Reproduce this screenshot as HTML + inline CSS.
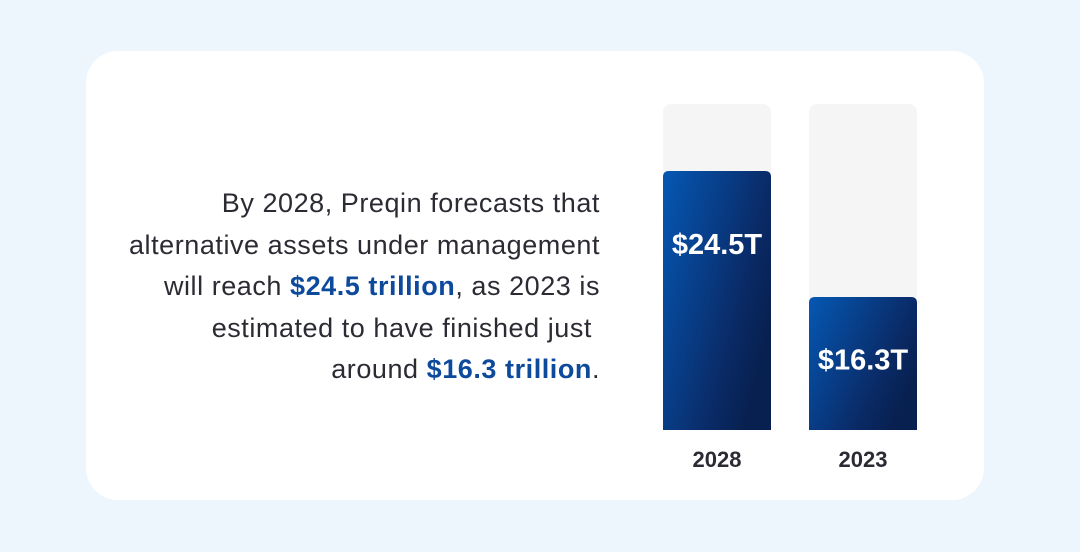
<!DOCTYPE html>
<html><head><meta charset="utf-8"><style>
html,body{margin:0;padding:0;width:1080px;height:552px;background:#eef6fd;overflow:hidden;font-family:"Liberation Sans",sans-serif}
#card{position:absolute;left:86px;top:51px;width:898px;height:449px;background:#fff;border-radius:32px}
#copy{position:absolute;right:480px;top:183px;width:560px;text-align:right;font-size:27px;letter-spacing:0.55px;line-height:41.6px;color:#2b2b33}
#copy b{color:#0d4a9c}
svg{position:absolute;left:0;top:0}
</style></head><body>
<div id="card"></div>
<div id="copy">By 2028, Preqin forecasts that<br>alternative assets under management<br>will reach <b>$24.5 trillion</b>, as 2023 is<br>estimated to have finished just&nbsp;<br>around <b>$16.3 trillion</b>.</div>
<svg id="chart" width="1080" height="552">
<defs><linearGradient id="g" x1="0" y1="0" x2="1" y2="0.6">
<stop offset="0" stop-color="#0558b4"/><stop offset="0.75" stop-color="#0a2a66"/><stop offset="1" stop-color="#07204f"/></linearGradient></defs>
</svg>
<script>
const categories=["2028","2023"];
const values=[24.5,16.3];
const valueLabels=["$24.5T","$16.3T"];
const domainMin=7.65, domainMax=28.86;
const svg=document.getElementById('chart'), NS='http://www.w3.org/2000/svg';
const y=v=>430-(v-domainMin)/(domainMax-domainMin)*326;
const x=i=>663+i*146;
function mk(t,a){const e=document.createElementNS(NS,t);for(const k in a)e.setAttribute(k,a[k]);svg.appendChild(e);return e;}
categories.forEach((c,i)=>{
 const tr=mk('rect',{x:x(i),y:104,width:108,height:326,rx:8,fill:'#f5f5f6'});
 
 
 const top=y(values[i]),h=430-top;
 const b=mk('path',{d:`M${x(i)},430 V${top+6} Q${x(i)},${top} ${x(i)+6},${top} H${x(i)+102} Q${x(i)+108},${top} ${x(i)+108},${top+6} V430 Z`,fill:'url(#g)'});
 
 
 const t=mk('text',{x:x(i)+54,y:top+Math.min(73,h/2-4)+10,'text-anchor':'middle','font-size':29,'font-weight':'bold',fill:'#fff'});
 t.textContent=valueLabels[i];
 
 
 const l=mk('text',{x:x(i)+54,y:467,'text-anchor':'middle','font-size':22,'font-weight':'bold',fill:'#2b2b33'});
 l.textContent=c;
 
 
});
</script>
</body></html>
